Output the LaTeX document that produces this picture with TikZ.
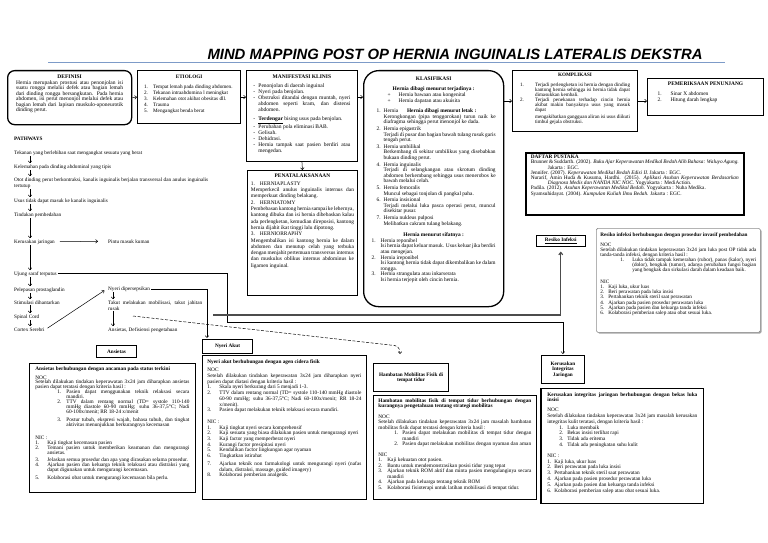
\documentclass[tikz,border=0pt]{standalone}
\usepackage{fontspec}
\setmainfont{Liberation Serif}
\newfontfamily\ttlfont{Liberation Sans}
\usepackage{graphicx}
\usetikzlibrary{arrows.meta,shadows,calc}
\definecolor{ttlblue}{RGB}{125,155,200}
\hyphenpenalty=10000
\exhyphenpenalty=10000
\tolerance=9999
\emergencystretch=6pt
\newcommand\pb[3]{\begin{minipage}[t][#2][t]{#1}\parindent=0pt #3\end{minipage}}
\newcommand\li[3]{\par\noindent\hangindent=#1\hangafter=1\makebox[#1][l]{#2}#3}
\newcommand\hg[2]{\par\noindent\hangindent=#1\hangafter=1 #2}
\newcommand\hd[1]{{\centering\textbf{#1}\par}}
\begin{document}
\begin{tikzpicture}[x=1pt,y=-1pt,
  fr/.style={draw, anchor=north west, line width=0.8pt},
  arr/.style={-{Straight Barb[length=2pt,width=3.6pt]}, line width=0.5pt},
  pw/.style={anchor=base west, inner sep=1pt, font=\fontsize{5.2}{6}\selectfont},
  lbl/.style={draw, anchor=north west, inner sep=0pt, align=center, font=\fontsize{5.2}{5.6}\selectfont\bfseries},
  shd/.style={fill=white, general shadow={fill=black, shadow xshift=0.9pt, shadow yshift=-0.9pt}}
]
\useasboundingbox (0,0) rectangle (768,543);
\fill[white] (0,0) rectangle (768,543);

% title
\node[anchor=base, inner sep=0pt] (title) at (455,59.5) {\resizebox{495pt}{!}{\ttlfont\bfseries\itshape MIND MAPPING POST OP HERNIA INGUINALIS LATERALIS DEKSTRA}};
\coordinate (tl) at (48,62);
\coordinate (tr) at (725,62);
\draw[ttlblue, line width=0.8pt] (tl) -- (tr);

% DEFINISI
\node[fr, line width=1.3pt, rounded corners=7pt, inner xsep=8.5pt, inner ysep=4pt, font=\fontsize{5.5}{5.5}\selectfont] (defbox) at (7,70)
 {\pb{107pt}{46pt}{\hd{DEFINISI}\vspace{0.5pt}Hernia merupakan prostusi atau penonjolan isi suatu rongga melalui defek atau bagian lemah dari dinding rongga bersangkutan. Pada hernia abdomen, isi perut menonjol melalui defek atau bagian lemah dari lapisan muskulo-aponeurotik dinding perut.}};

% ETIOLOGI
\node[fr, line width=1.2pt, inner xsep=5pt, inner ysep=4pt, font=\fontsize{5.2}{6}\selectfont] (etibox) at (137,70)
 {\pb{93pt}{45pt}{\hd{ETIOLOGI}\vspace{4pt}%
 {\leftskip=1.5pt
 \li{9pt}{1.}{Tempat lemah pada dinding abdomen.}%
 \li{9pt}{2.}{Tekanan intraabdomina l meningkat}%
 \li{9pt}{3.}{Kelemahan otot akibat obesitas dll.}%
 \li{9pt}{4.}{Trauma}%
 \li{9pt}{5.}{Mengangkat benda berat}\par}}};

% MANIFESTASI
\node[fr, line width=0.9pt, inner xsep=7pt, inner ysep=4pt, font=\fontsize{5.5}{5.8}\selectfont] (manbox) at (246,70)
 {\pb{97pt}{83pt}{\hd{MANIFESTASI KLINIS}\vspace{4pt}%
 \li{5pt}{-}{Penonjolan di daerah inguinal}%
 \li{5pt}{-}{Nyeri pada benjolan.}%
 \li{5pt}{-}{Obstruksi ditandai dengan muntah, nyeri abdomen seperti kram, dan distensi abdomen.}\par\vspace{4pt}%
 \li{5pt}{-}{\underline{\textbf{Terdengar}} bising usus pada benjolan.}%
 \li{5pt}{-}{Perubahan pola eliminasi BAB.}%
 \li{5pt}{-}{Gelisah.}%
 \li{5pt}{-}{Dehidrasi.}%
 \li{5pt}{-}{Hernia tampak saat pasien berdiri atau mengedan.}}};

% PENATALAKSANAAN
\node[fr, line width=0.9pt, inner xsep=3.5pt, inner ysep=3pt, font=\fontsize{5.4}{6.3}\selectfont] (penbox) at (247,170)
 {\pb{103pt}{119pt}{\hd{PENATALAKSANAAN}\vspace{2pt}%
 \li{9pt}{1.}{HERNIAPLASTY}%
 \par\noindent Memperkecil anulus inguinalis internus dan memperkuat dinding belakang.%
 \li{9pt}{2.}{HERNIATOMY}%
 \par\noindent Pembebasan kantong hernia sampai ke lehernya, kantong dibuka dan isi hernia dibebaskan kalau ada perlengketan, kemudian direposisi, kantong hernia dijahit ikat tinggi lalu dipotong.%
 \li{9pt}{3.}{HERNIORRAPHY}%
 \par\noindent Mengembalikan isi kantong hernia ke dalam abdomen dan menutup celah yang terbuka dengan menjahit pertemuan transversus internus dan muskulus oblikus internus abdominus ke ligamen inguinal.}};

% KLASIFIKASI
\node[fr, line width=1.3pt, rounded corners=15pt, inner xsep=8pt, inner ysep=6pt, font=\fontsize{5.4}{5.6}\selectfont] (klabox) at (363,70)
 {\pb{124pt}{224pt}{\hd{KLASIFIKASI}\vspace{5pt}%
 \hd{Hernia dibagi menurut terjadinya :}%
 {\leftskip=16pt\li{11pt}{+}{Hernia bawaan atau kongenital}\li{11pt}{+}{Hernia dapatan atau akuisita}\par}%
 \vspace{5pt}%
 \hd{\hspace*{16pt}Hernia dibagi menurut letak :}\vspace{-5.6pt}%
 {\leftskip=5pt
 \li{7pt}{1.}{Hernia\\Kerongkongan (pipa tenggorokan) turun naik ke diafragma sehingga perut menonjol ke dada.}\par\vspace{1pt}%
 \li{7pt}{2.}{Hernia epigastrik\\Terjadi di pusar dan bagian bawah tulang rusuk garis tengah perut.}\par\vspace{1pt}%
 \li{7pt}{3.}{Hernia umbilikal\\Berkembang di sekitar umbilikus yang disebabkan bukaan dinding perut.}\par\vspace{1pt}%
 \li{7pt}{4.}{Hernia inguinalis\\Terjadi di selangkangan atau skrotum dinding abdomen berkembang sehingga usus menerobos ke bawah melalui celah.}\par\vspace{1pt}%
 \li{7pt}{5.}{Hernia femoralis\\Muncul sebagai tonjolan di pangkal paha.}\par\vspace{1pt}%
 \li{7pt}{6.}{Hernia insisional\\Terjadi melalui luka pasca operasi perut, muncul disekitar pusar.}\par\vspace{1pt}%
 \li{7pt}{7.}{Hernia nukleus pulposi\\Melibatkan cakram tulang belakang.}\par}%
 \vspace{6pt}%
 \hd{Hernia menurut sifatnya :}%
 \li{9pt}{1.}{Hernia reponibel\\Isi hernia dapat keluar masuk. Usus keluar jika berdiri atau mengejan.}%
 \li{9pt}{2.}{Hernia ireponibel\\Isi kantong hernia tidak dapat dikembalikan ke dalam rongga.}%
 \li{9pt}{3.}{Hernia strangulata atau inkarserata\\Isi hernia terjepit oleh cincin hernia.}}};

% KOMPLIKASI
\node[fr, line width=1.1pt, inner xsep=7.5pt, inner ysep=2.5pt, font=\fontsize{5.1}{5}\selectfont] (kombox) at (512,70)
 {\pb{110pt}{56pt}{\hd{KOMPLIKASI}\vspace{5pt}%
 \li{15pt}{1.}{Terjadi perlengketan isi hernia dengan dinding kantong hernia sehingga isi hernia tidak dapat dimasukkan kembali.}%
 \li{15pt}{2.}{Terjadi penekanan terhadap cincin hernia akibat makin banyaknya usus yang masuk dapat}\par\vspace{2.5pt}%
 {\leftskip=15pt\noindent mengakibatkan gangguan aliran isi usus diikuti timbul gejala obstruksi.\par}}};

% PEMERIKSAAN
\node[fr, line width=1.1pt, inner xsep=10pt, inner ysep=3pt, font=\fontsize{5.4}{5.5}\selectfont] (pembox) at (647,78)
 {\pb{96pt}{31pt}{\hd{PEMERIKSAAN PENUNJANG}\vspace{5pt}%
 \li{13pt}{1.}{Sinar X abdomen}%
 \li{13pt}{2.}{Hitung darah lengkap}}};

% DAFTAR PUSTAKA
\node[fr, line width=1.5pt, inner xsep=5pt, inner ysep=2.5pt, font=\fontsize{5.3}{5.2}\selectfont] (dafbox) at (525,152)
 {\pb{208pt}{57pt}{\noindent\textbf{DAFTAR PUSTAKA}%
 \hg{17pt}{Brunner \& Suddarth. (2002). \textit{Buku Ajar Keperawatan Medikal Bedah Alih Bahasa: Waluyo Agung}. Jakarta : EGC.}%
 \hg{17pt}{Jennifer. (2007). \textit{Keperawatan Medikal Bedah Edisi II}. Jakarta : EGC.}%
 \hg{17pt}{Nurarif, Amin Huda \& Kusuma, Hardhi. (2015). \textit{Aplikasi Asuhan Keperawatan Berdasarkan Diagnosa Medis dan NANDA NIC NOC}. Yogyakarta : MediAction.}%
 \hg{17pt}{Padila. (2012). \textit{Asuhan Keperawatan Medikal Bedah}. Yogyakarta : Nuha Medika.}%
 \hg{17pt}{Syamsuhidayat. (2004). \textit{Kumpulan Kuliah Ilmu Bedah}. Jakarta : EGC.}}};

% RESIKO INFEKSI
\node[lbl, line width=0.5pt, fill=white, general shadow={fill=black!70, shadow xshift=0.7pt, shadow yshift=-0.7pt}, minimum width=49pt, minimum height=11pt] (riss) at (536,235) {\underline{Resiko Infeksi}};
\node[fr, draw=black!45, line width=0.6pt, rounded corners=1.5pt, fill=white, general shadow={fill=black!35, shadow xshift=1.2pt, shadow yshift=-1.2pt}, inner xsep=4pt, inner ysep=5pt, font=\fontsize{5.2}{5.1}\selectfont] (risbig) at (596,228)
 {\pb{156pt}{94pt}{\noindent\textbf{Resiko infeksi berhubungan dengan prosedur invasif pembedahan}\par\vspace{4pt}%
 NOC\par
 Setelah dilakukan tindakan keperawatan 3x24 jam luka post OP tidak ada tanda-tanda infeksi, dengan kriteria hasil :\par
 {\leftskip=20pt\li{12pt}{1.}{Luka tidak tampak kemerahan (rubor), panas (kalor), nyeri (dolor), bengkak (tumor), adanya perubahan fungsi bagian yang bengkak dan sirkulasi darah dalam keadaan baik.}\par}%
 \vspace{7pt}%
 NIC\par
 \li{8pt}{1.}{Kaji luka, ukur luas}%
 \li{8pt}{2.}{Beri perawatan pada luka insisi}%
 \li{8pt}{3.}{Pertahankan teknik steril saat perawatan}%
 \li{8pt}{4.}{Ajarkan pada pasien prosedur perawatan luka}%
 \li{8pt}{5.}{Ajarkan pada pasien dan keluarga tanda infeksi}%
 \li{8pt}{6.}{Kolaborasi pemberian salep atau obat sesuai luka.}}};

% ANSIETAS
\node[lbl, line width=1pt, minimum width=40pt, minimum height=12pt] (anss) at (96,345) {Ansietas};
\node[fr, shd, line width=0.8pt, inner xsep=6pt, inner ysep=3pt, font=\fontsize{5.3}{4.95}\selectfont] (ansbig) at (29,363)
 {\pb{154pt}{123pt}{\noindent\textbf{Ansietas berhubungan dengan ancaman pada status terkini}\par\vspace{4pt}%
 NOC\par
 Setelah dilakukan tindakan keperawatan 3x24 jam diharapkan ansietas pasien dapat teratasi dengan kriteria hasil :\par
 {\leftskip=22pt
 \li{9pt}{1.}{Pasien dapat menggunakan teknik relaksasi secara mandiri.}%
 \li{9pt}{2.}{TTV dalam rentang normal (TD= systole 110-140 mmHg diastole 60-90 mmHg; suhu 36-37,5°C; Nadi 60-100x/menit; RR 18-24 x/menit}\par\vspace{3pt}%
 \li{9pt}{3.}{Postur tubuh, ekspresi wajah, bahasa tubuh, dan tingkat aktivitas menunjukkan berkurangnya kecemasan}\par}%
 \vspace{8pt}%
 NIC :\par
 \li{12pt}{1.}{Kaji tingkat kecemasan pasien}%
 \li{12pt}{2.}{Temani pasien untuk memberikan keamanan dan mengurangi ansietas.}\par\vspace{2pt}%
 \li{12pt}{3.}{Jelaskan semua prosedur dan apa yang dirasakan selama prosedur.}%
 \li{12pt}{4.}{Ajarkan pasien dan keluarga teknik relaksasi atau distraksi yang dapat digunakan untuk mengurangi kecemasan.}\par\vspace{3pt}%
 \li{12pt}{5.}{Kolaborasi obat untuk mengurangi kecemasan bila perlu.}}};

% NYERI AKUT
\node[lbl, line width=1pt, minimum width=50pt, minimum height=14pt] (nyes) at (202,339) {Nyeri Akut};
\node[fr, shd, line width=0.8pt, inner xsep=5pt, inner ysep=4pt, font=\fontsize{5.3}{5.7}\selectfont] (nyebig) at (202,355)
 {\pb{154pt}{136pt}{\noindent\textbf{Nyeri akut berhubungan dengan agen cidera fisik}\par\vspace{3pt}%
 NOC\par
 Setelah dilakukan tindakan keperawatan 3x24 jam diharapkan nyeri pasien dapat diatasi dengan kriteria hasil :%
 \li{12pt}{1.}{Skala nyeri berkurang dari 5 menjadi 1-3.}%
 \li{12pt}{2.}{TTV dalam rentang normal (TD= systole 110-140 mmHg diastole 60-90 mmHg; suhu 36-37,5°C; Nadi 60-100x/menit; RR 18-24 x/menit).}%
 \li{12pt}{3.}{Pasien dapat melakukan teknik relaksasi secara mandiri.}\par\vspace{6pt}%
 NIC :%
 \li{12pt}{1.}{Kaji tingkat nyeri secara komprehensif}%
 \li{12pt}{2.}{Kaji sesuatu yang biasa dilakukan pasien untuk mengurangi nyeri}%
 \li{12pt}{3.}{Kaji factor yang memperberat nyeri}%
 \li{12pt}{4.}{Kurangi factor presipitasi nyeri}%
 \li{12pt}{5.}{Kendalikan factor lingkungan agar nyaman}%
 \li{12pt}{6.}{Tingkatkan istirahat}\par\vspace{2pt}%
 \li{12pt}{7.}{Ajarkan teknik non farmakologi untuk mengurangi nyeri (nafas dalam, distraksi, massage, guided imagery)}%
 \li{12pt}{8.}{Kolaborasi pemberian analgetik.}}};

% HAMBATAN
\node[lbl, line width=1.2pt, minimum width=75pt, minimum height=28pt] (hams) at (373,363) {Hambatan Mobilitas Fisik di\\tempat tidur};
\node[fr, shd, line width=0.8pt, inner xsep=5pt, inner ysep=3pt, font=\fontsize{5.3}{5.5}\selectfont] (hambig) at (373,395)
 {\pb{153pt}{98pt}{\noindent\textbf{Hambatan mobilitas fisik di tempat tidur berhubungan dengan kurangnya pengetahuan tentang strategi mobilitas}\par\vspace{5pt}%
 NOC\par
 Setelah dilakukan tindakan keperawatan 3x24 jam masalah hambatan mobilitas fisik dapat teratasi dengan kriteria hasil :\par
 {\leftskip=16pt\li{8pt}{1.}{Pasien dapat melakukan mobilitas di tempat tidur dengan mandiri}\li{8pt}{2.}{Pasien dapat melakukan mobilitas dengan nyaman dan aman}\par}%
 \vspace{5pt}%
 NIC%
 \li{9pt}{1.}{Kaji kekuatan otot pasien.}%
 \li{9pt}{2.}{Bantu untuk mendemonstrasikan posisi tidur yang tepat}%
 \li{9pt}{3.}{Ajarkan teknik ROM aktif dan minta pasien mengulanginya secara mandiri}%
 \li{9pt}{4.}{Ajarkan pada keluarga tentang teknik ROM}%
 \li{9pt}{5.}{Kolaborasi fisioterapi untuk latihan mobilisasi di tempat tidur.}}};

% KERUSAKAN
\node[lbl, line width=0.8pt, minimum width=43pt, minimum height=28pt] (kers) at (541,355) {Kerusakan\\Integritas\\Jaringan};
\node[fr, line width=0.7pt, inner xsep=6pt, inner ysep=4pt, font=\fontsize{5.3}{5.8}\selectfont] (kerbig) at (541,388)
 {\pb{150pt}{107pt}{\noindent\textbf{Kerusakan integritas jaringan berhubungan dengan bekas luka insisi}\par\vspace{4pt}%
 NOC\par
 Setelah dilakukan tindakan keperawatan 3x24 jam masalah kerusakan integritas kulit teratasi, dengan kriteria hasil :\par
 {\leftskip=12pt\li{8pt}{1.}{Luka membaik}\li{8pt}{2.}{Bekas insisi terlihat rapi}\li{8pt}{3.}{Tidak ada eritema}\li{8pt}{4.}{Tidak ada peningkatan suhu kulit}\par}%
 \vspace{5pt}%
 NIC :%
 \li{7pt}{1.}{Kaji luka, ukur luas}%
 \li{7pt}{2.}{Beri perawatan pada luka insisi}%
 \li{7pt}{3.}{Pertahankan teknik steril saat perawatan}%
 \li{7pt}{4.}{Ajarkan pada pasien prosedur perawatan luka}%
 \li{7pt}{5.}{Ajarkan pada pasien dan keluarga tanda infeksi}%
 \li{7pt}{6.}{Kolaborasi pemberian salep atau obat sesuai luka.}}};
\draw[line width=1.4pt] (kerbig.north west) -- (kerbig.south west);

% top arrows
\draw[arr] (defbox.east) -- (etibox.west);
\draw[arr] (etibox.east) -- (etibox.east -| manbox.west);
\draw[arr] (etibox.east -| manbox.east) -- (etibox.east -| klabox.west);
\draw[arr] (kombox.west -| klabox.east) -- (kombox.west);
\draw[arr] (kombox.east) -- (kombox.east -| pembox.west);
\draw[arr] (manbox.south) -- (penbox.north);

% PATHWAYS
\node[pw, font=\fontsize{5.2}{6}\selectfont\bfseries] (p0) at (13,140) {PATHWAYS};
\node[pw] (p1) at (13,154) {Tekanan yang berlebihan saat mengangkat sesuatu yang berat};
\node[pw] (p2) at (13,168) {Kelemahan pada dinding abdominal yang tipis};
\node[pw, text width=194pt, align=justify] (p3) at (13,181) {Otot dinding perut berkontraksi, kanalis inguinalis berjalan transversal dan anulus inguinalis tertutup};
\node[pw] (p4) at (13,202) {Usus tidak dapat masuk ke kanalis inguinalis};
\node[pw] (p5) at (13,216) {Tindakan pembedahan};
\node[pw] (p6) at (13,243) {Kerusakan jaringan};
\node[pw] (p6b) at (107,243) {Pintu masuk kuman};
\node[pw] (p7) at (13,275) {Ujung saraf terputus};
\node[pw] (p8) at (13,291) {Pelepasan prostaglandin};
\node[pw] (p9) at (13,304) {Stimulasi dihantarkan};
\node[pw] (p10) at (13,318) {Spinal Cord};
\node[pw] (p11) at (13,331) {Cortex Serebri};
\node[pw] (q1) at (107,290) {Nyeri dipersepsikan};
\node[pw, text width=94pt, align=justify] (q2) at (107,304) {Takut melakukan mobilisasi, takut jahitan rusak};
\node[pw] (q3) at (107,331) {Ansietas, Defisiensi pengetahuan};

\coordinate (cx) at (30,0);
\coordinate (qx) at (113,0);
\foreach \a/\b in {p1/p2,p2/p3,p3/p4,p4/p5,p5/p6,p6/p7,p7/p8,p8/p9,p9/p10,p10/p11}
  \draw[arr] (\a.south -| cx) -- (\b.north -| cx);
\draw[arr, shorten <=4pt, shorten >=9pt] (p6.east) -- (p6b.west);
\draw[arr, shorten <=2pt, shorten >=3pt] (p11.east) -- (q1.west);
\draw[arr] (q1.south -| qx) -- (q2.north -| qx);
\draw[arr] (q2.south -| qx) -- (q3.north -| qx);

% connectors to bottom boxes
\coordinate (nyin) at ($(nyes.north west)+(5,0)$);
\draw[arr, shorten >=1pt] (q1.east) -| (nyin);
\coordinate (ujc) at (227,322);
\draw[arr, shorten >=1pt] (p7.east) -| (ujc) -| (kers.north);
\coordinate (gstart) at (213,315);
\draw[line width=1.1pt, black!70, -{Straight Barb[length=2.5pt,width=4pt]}, shorten >=5pt] (gstart) -| (riss.south);
\coordinate (dstart) at (133,316);
\coordinate (dmid) at (390,345);
\coordinate (dend) at (400,354);
\draw[arr, dash pattern=on 3pt off 1.6pt] (dstart) -- (dmid) .. controls (397,345) and (400,347) .. (dend);
\end{tikzpicture}
\end{document}
